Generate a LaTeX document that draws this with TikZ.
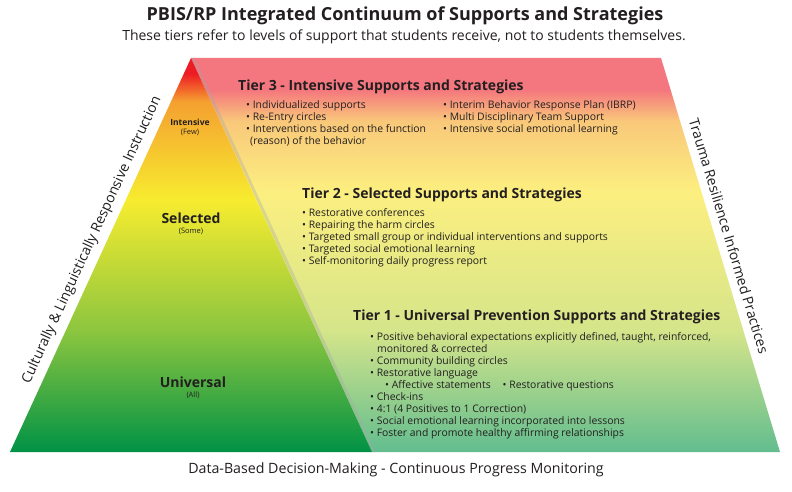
\documentclass[tikz,border=0pt]{standalone}
\usepackage{fontspec}
\setmainfont{Open Sans}
\definecolor{g1}{HTML}{ED1C24}
\definecolor{g2}{HTML}{F5A030}
\definecolor{g3}{HTML}{F7EC2F}
\definecolor{g4}{HTML}{8DC63F}
\definecolor{g5}{HTML}{009245}
\definecolor{t1}{HTML}{F4767E}
\definecolor{t2}{HTML}{F9C87A}
\definecolor{t3}{HTML}{FCEF80}
\definecolor{t4}{HTML}{D5E58A}
\definecolor{t5}{HTML}{62BD8F}
\definecolor{ink}{HTML}{231F20}
\pgfdeclareverticalshading{trishade}{100bp}{color(0bp)=(g5); color(25bp)=(g5); color(40.5bp)=(g4); color(57bp)=(g3); color(69.5bp)=(g2); color(73bp)=(g1); color(100bp)=(g1)}
\pgfdeclareverticalshading{trapshade}{100bp}{color(0bp)=(t5); color(25bp)=(t5); color(40.5bp)=(t4); color(58bp)=(t3); color(67bp)=(t2); color(71bp)=(t1); color(100bp)=(t1)}
\begin{document}
\begin{tikzpicture}[x=1pt,y=-1pt,
  every node/.style={inner sep=0pt,text=ink},
  ttl/.style={anchor=north west,font=\bfseries\fontsize{14}{15}\selectfont},
  items/.style={anchor=north west,align=left,font=\fontsize{10.4}{12}\selectfont},
  big/.style={font=\bfseries\fontsize{14}{15}\selectfont},
  small/.style={font=\fontsize{7.5}{8}\selectfont}]
\useasboundingbox (0,0) rectangle (792,492);
\fill[white] (0,0) rectangle (792,492);
\coordinate (A) at (191,58);
\coordinate (BL) at (10,452);
\coordinate (BR) at (372,452);
\coordinate (TR) at (661,58);
\coordinate (RR) at (780,452);
\shade[shading=trapshade] (A) -- (TR) -- (RR) -- (BR) -- cycle;
\draw[black!35,line width=3pt,opacity=0.35] ([xshift=2pt]A) -- ([xshift=2pt]BR);
\shade[shading=trishade] (A) -- (BR) -- (BL) -- cycle;

\node[font=\bfseries\fontsize{18}{20}\selectfont] (title) at (405,16) {PBIS/RP Integrated Continuum of Supports and Strategies};
\node[font=\fontsize{14}{16}\selectfont] (sub) at (404,37) {These tiers refer to levels of support that students receive, not to students themselves.};
\node[font=\fontsize{14.2}{16}\selectfont] (bottom) at (396,470) {Data-Based Decision-Making - Continuous Progress Monitoring};

\node[font=\bfseries\fontsize{8.5}{9}\selectfont] (int) at (190,122) {Intensive};
\node[small] (few) at (190,132) {(Few)};
\node[big] (sel) at (191,218) {Selected};
\node[small] (some) at (191,231) {(Some)};
\node[big] (uni) at (193,382) {Universal};
\node[small] (all) at (193,395) {(All)};

\node[rotate=65.3,font=\fontsize{14}{16}\selectfont] (left) at (92,240) {Culturally \& Linguistically Responsive Instruction};
\node[rotate=-73.2,font=\fontsize{14}{16}\selectfont] (right) at (729,236) {Trauma Resilience Informed Practices};

\node[ttl] (t3) at (238,80) {Tier 3 - Intensive Supports and Strategies};
\node[items] (t3a) at (246,100) {• Individualized supports\\• Re-Entry circles\\• Interventions based on the function\\\hspace*{4pt}(reason) of the behavior};
\node[items] (t3b) at (443,100) {• Interim Behavior Response Plan (IBRP)\\• Multi Disciplinary Team Support\\• Intensive social emotional learning};

\node[ttl] (t2) at (302,188) {Tier 2 - Selected Supports and Strategies};
\node[items] (t2a) at (302,208) {• Restorative conferences\\• Repairing the harm circles\\• Targeted small group or individual interventions and supports\\• Targeted social emotional learning\\• Self-monitoring daily progress report};

\node[ttl] (t1) at (353,310) {Tier 1 - Universal Prevention Supports and Strategies};
\node[items] (t1a) at (370,332) {• Positive behavioral expectations explicitly defined, taught, reinforced,\\\hspace*{7pt}monitored \& corrected\\• Community building circles\\• Restorative language\\\hspace*{15pt}• Affective statements\hspace{12pt}• Restorative questions\\• Check-ins\\• 4:1 (4 Positives to 1 Correction)\\• Social emotional learning incorporated into lessons\\• Foster and promote healthy affirming relationships};
\end{tikzpicture}
\end{document}
